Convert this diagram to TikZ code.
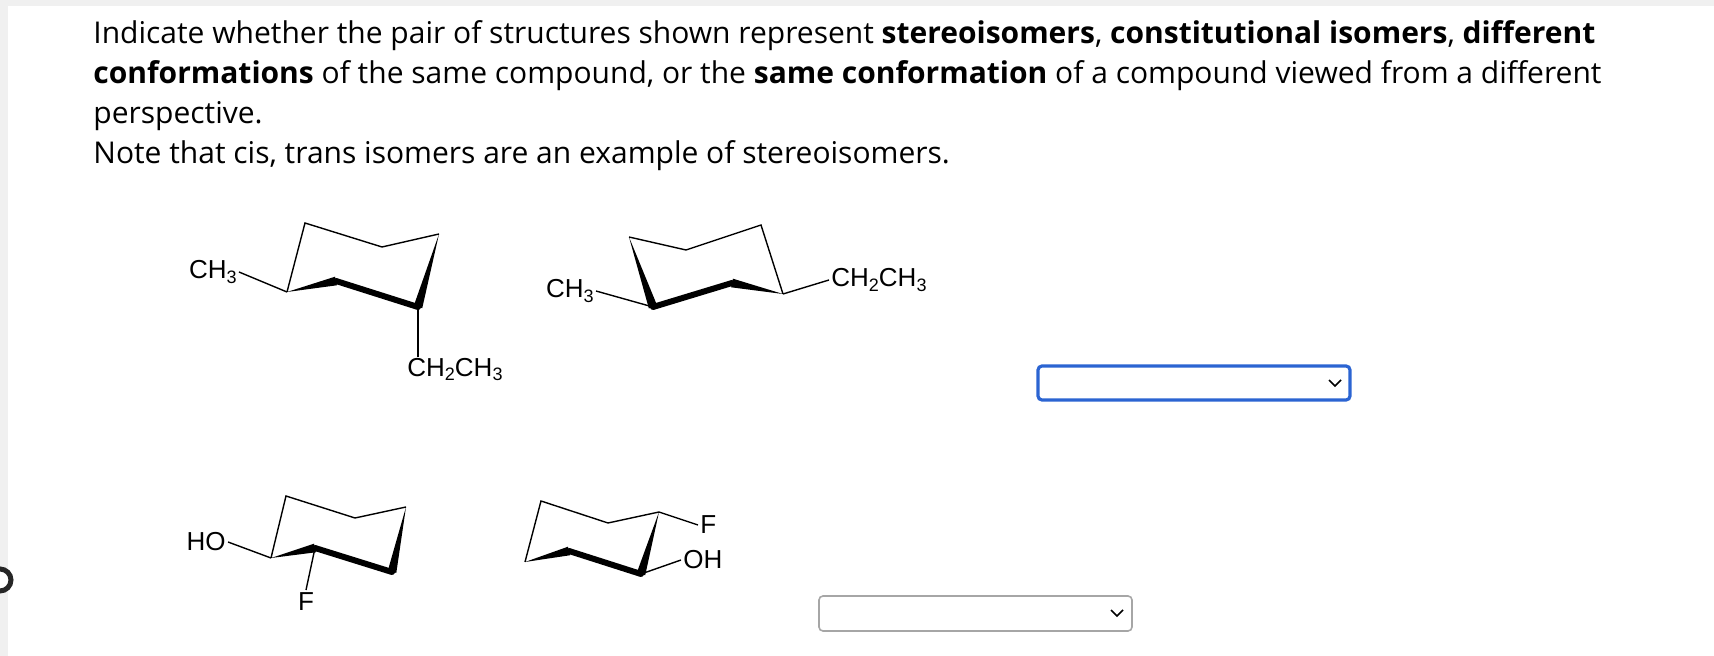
\documentclass[tikz,border=0pt]{standalone}
\usepackage{fontspec}
\setmainfont{Open Sans}
\newfontfamily\chemfont{Liberation Sans}
\usetikzlibrary{calc}
\newcommand{\lsb}[1]{\raisebox{-0.3ex}{\fontsize{9}{10}\selectfont #1}}
\begin{document}
\begin{tikzpicture}[x=0.5pt,y=-0.5pt,
  txt/.style={anchor=base west,inner sep=0pt,font=\fontsize{15}{18}\selectfont},
  lab/.style={inner sep=1pt,font=\chemfont\fontsize{13}{15}\selectfont},
  bond/.style={line width=0.7pt},
  boldbond/.style={line width=3pt,line cap=round},
  dropbox/.style={draw,rounded corners=2pt,fill=white}]
\useasboundingbox (0,0) rectangle (1714,656);
\fill[gray!12] (0,0) rectangle (1714,6);
\fill[gray!12] (0,0) rectangle (8,656);
\draw[fill=white,draw=black!85,line width=2.5pt] (0,580) circle (11);
\newcommand{\wdg}[2]{\fill ($(#2)!2.2pt!90:(#1)$) -- (#1) -- ($(#2)!2.2pt!-90:(#1)$) -- cycle;}
% text
\node[txt] (l1) at (93,44) {Indicate whether the pair of structures shown represent \textbf{stereoisomers}, \textbf{constitutional isomers}, \textbf{different}};
\node[txt] (l2) at (93,84) {\textbf{conformations} of the same compound, or the \textbf{same conformation} of a compound viewed from a different};
\node[txt] (l3) at (93,124) {perspective.};
\node[txt] (l4) at (93,164) {Note that cis, trans isomers are an example of stereoisomers.};
% ring 1
\coordinate (a1) at (305,223); \coordinate (a2) at (382,247); \coordinate (a3) at (439,234);
\coordinate (a4) at (418,307); \coordinate (a5) at (336,281); \coordinate (a6) at (287,292);
\draw[bond] (a6) -- (a1) -- (a2) -- (a3);
\wdg{a6}{a5} \draw[boldbond] (a5) -- (a4); \wdg{a3}{a4}
\node[lab,anchor=east] (m1) at (239,272) {CH\lsb{3}};
\draw[bond] (m1.east) -- (a6);
\node[lab,anchor=north west] (e1) at (405,356) {CH\lsb{2}CH\lsb{3}};
\draw[bond] (a4) -- (418,357);
% ring 2
\coordinate (b1) at (629,237); \coordinate (b2) at (686,250); \coordinate (b3) at (761,225);
\coordinate (b4) at (783,294); \coordinate (b5) at (732,283); \coordinate (b6) at (653,307);
\draw[bond] (b1) -- (b2) -- (b3) -- (b4);
\wdg{b1}{b6} \draw[boldbond] (b6) -- (b5); \wdg{b4}{b5}
\node[lab,anchor=east] (m2) at (596,291) {CH\lsb{3}};
\draw[bond] (m2.east) -- (b6);
\node[lab,anchor=west] (e2) at (829,280) {CH\lsb{2}CH\lsb{3}};
\draw[bond] (b4) -- (e2.west);
% ring 3
\coordinate (c1) at (286,496); \coordinate (c2) at (355,518); \coordinate (c3) at (406,507);
\coordinate (c4) at (392,572); \coordinate (c5) at (315,548); \coordinate (c6) at (271,558);
\draw[bond] (c6) -- (c1) -- (c2) -- (c3);
\wdg{c6}{c5} \draw[boldbond] (c5) -- (c4); \wdg{c3}{c4}
\node[lab,anchor=east] (h3) at (228,542) {HO};
\draw[bond] (h3.east) -- (c6);
\node[lab,anchor=north] (f3) at (306,590) {F};
\draw[bond] (c5) -- (f3.north);
% ring 4
\coordinate (d1) at (541,501); \coordinate (d2) at (608,523); \coordinate (d3) at (659,512);
\coordinate (d4) at (641,574); \coordinate (d5) at (569,551); \coordinate (d6) at (525,562);
\draw[bond] (d6) -- (d1) -- (d2) -- (d3);
\wdg{d6}{d5} \draw[boldbond] (d5) -- (d4); \wdg{d3}{d4}
\node[lab,anchor=west] (f4) at (698,525) {F};
\draw[bond] (d3) -- (f4.west);
\node[lab,anchor=west] (o4) at (681,560) {OH};
\draw[bond] (d4) -- (o4.west);
% dropdowns
\draw[dropbox,draw={rgb,255:red,43;green,100;blue,210},line width=1.6pt] (1038,366) rectangle (1350,400);
\draw[line width=0.8pt] (1329,380) -- (1335,386) -- (1341,380);
\draw[dropbox,draw=gray!70,line width=0.8pt] (819,596) rectangle (1132,631);
\draw[line width=0.8pt] (1111,610) -- (1117,616) -- (1123,610);
\end{tikzpicture}
\end{document}
